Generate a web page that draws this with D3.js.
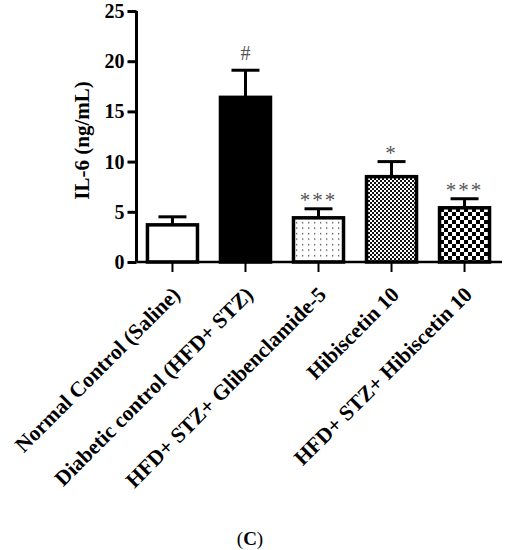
<!DOCTYPE html>
<html>
<head>
<meta charset="utf-8">
<script src="https://cdn.jsdelivr.net/npm/d3@7"></script>
<style>
  html, body { margin: 0; padding: 0; background: #fff; }
  svg { display: block; }
</style>
</head>
<body>
<div id="chart"></div>
<script>
// values (mean and SEM, ng/mL)
const categories = [
    "Normal Control (Saline)",
    "Diabetic control (HFD+ STZ)",
    "HFD+ STZ+ Glibenclamide-5",
    "Hibiscetin 10",
    "HFD+ STZ+ Hibiscetin 10"
];
const means = [3.7, 16.4, 4.4, 8.5, 5.4];
const errors = [0.8, 2.7, 0.9, 1.5, 0.9];
const marks = ["", "#", "***", "*", "***"];
const fills = ["white", "black", "url(#dots)", "url(#fineCheck)", "url(#coarseCheck)"];
const yTicks = [0, 5, 10, 15, 20, 25];

const W = 506, H = 550;
const serif = "'Liberation Serif', 'Times New Roman', serif";

const svg = d3.select("#chart")
    .append("svg")
    .attr("width", W)
    .attr("height", H);

// fill patterns for the treated groups
const defs = svg.append("defs");

const dots = defs.append("pattern")
    .attr("id", "dots")
    .attr("patternUnits", "userSpaceOnUse")
    .attr("width", 6).attr("height", 5.5);
dots.append("rect").attr("width", 6).attr("height", 5.5).attr("fill", "white");
dots.append("rect").attr("x", 2).attr("y", 2).attr("width", 1.3).attr("height", 1.3).attr("fill", "#444");

const fine = defs.append("pattern")
    .attr("id", "fineCheck")
    .attr("patternUnits", "userSpaceOnUse")
    .attr("width", 4).attr("height", 4);
fine.append("rect").attr("width", 4).attr("height", 4).attr("fill", "white");
fine.append("rect").attr("width", 2).attr("height", 2).attr("fill", "#111");
fine.append("rect").attr("x", 2).attr("y", 2).attr("width", 2).attr("height", 2).attr("fill", "#111");

const coarse = defs.append("pattern")
    .attr("id", "coarseCheck")
    .attr("patternUnits", "userSpaceOnUse")
    .attr("width", 8).attr("height", 8);
coarse.append("rect").attr("width", 8).attr("height", 8).attr("fill", "white");
coarse.append("rect").attr("width", 4).attr("height", 4).attr("fill", "#000");
coarse.append("rect").attr("x", 4).attr("y", 4).attr("width", 4).attr("height", 4).attr("fill", "#000");

// scales
const x = d3.scaleBand()
    .domain(categories)
    .range([136.5, 500.5])
    .paddingInner(0.315)
    .paddingOuter(0.15);

const y = d3.scaleLinear()
    .domain([0, 25])
    .range([262, 11]);

const data = categories.map((c, i) => ({
    name: c, mean: means[i], err: errors[i], mark: marks[i], fill: fills[i]
}));

// bars
svg.selectAll(".bar")
    .data(data)
    .enter().append("rect")
    .attr("class", "bar")
    .attr("x", d => x(d.name))
    .attr("y", d => y(d.mean))
    .attr("width", x.bandwidth())
    .attr("height", d => y(0) - y(d.mean))
    .attr("fill", d => d.fill)
    .attr("stroke", "black")
    .attr("stroke-width", 3.5);

// error bars (upper half only)
const eb = svg.selectAll(".err")
    .data(data)
    .enter().append("g")
    .attr("class", "err")
    .attr("stroke", "black")
    .attr("stroke-width", 3);

eb.append("line")
    .attr("x1", d => x(d.name) + x.bandwidth() / 2)
    .attr("x2", d => x(d.name) + x.bandwidth() / 2)
    .attr("y1", d => y(d.mean))
    .attr("y2", d => y(d.mean + d.err));

eb.append("line")
    .attr("x1", d => x(d.name) + x.bandwidth() / 2 - 14)
    .attr("x2", d => x(d.name) + x.bandwidth() / 2 + 14)
    .attr("y1", d => y(d.mean + d.err))
    .attr("y2", d => y(d.mean + d.err));

// significance marks
svg.selectAll(".sig")
    .data(data.filter(d => d.mark))
    .enter().append("text")
    .attr("class", "sig")
    .attr("x", d => x(d.name) + x.bandwidth() / 2)
    .attr("y", d => y(d.mean + d.err) - (d.mark === "#" ? 10 : 2))
    .attr("text-anchor", "middle")
    .attr("font-family", serif)
    .attr("font-size", d => d.mark === "#" ? 20 : 21)
    .attr("letter-spacing", d => d.mark === "#" ? 0 : 2)
    .attr("fill", "#555")
    .text(d => d.mark);

// y axis
const yAxis = svg.append("g")
    .attr("transform", "translate(136.5,0)")
    .call(d3.axisLeft(y).tickValues(yTicks).tickSize(9).tickPadding(3));
yAxis.select(".domain").attr("stroke-width", 3).attr("d", `M0,${y(25)}V${y(0)}`);
yAxis.selectAll(".tick line").attr("stroke-width", 3);
yAxis.selectAll(".tick text")
    .attr("font-family", serif)
    .attr("font-weight", "bold")
    .attr("font-size", 20)
    .attr("fill", "#000");

// x axis
const xAxis = svg.append("g")
    .attr("transform", `translate(0,${y(0)})`)
    .call(d3.axisBottom(x).tickSize(10).tickPadding(4));
xAxis.select(".domain").attr("stroke-width", 2.5).attr("d", "M136.5,0H502");
xAxis.selectAll(".tick line").attr("stroke-width", 2);
xAxis.selectAll(".tick text")
    .attr("font-family", serif)
    .attr("font-weight", "bold")
    .attr("font-size", 21.5)
    .attr("fill", "#000")
    .attr("text-anchor", "end")
    .attr("dy", 0)
    .attr("transform", "translate(-1,24) rotate(-45)");

// y axis title
svg.append("text")
    .attr("transform", `translate(89,${(y(0) + y(25)) / 2 + 4}) rotate(-90)`)
    .attr("text-anchor", "middle")
    .attr("font-family", serif)
    .attr("font-weight", "bold")
    .attr("font-size", 21)
    .text("IL-6 (ng/mL)");

// panel letter
const panel = svg.append("text")
    .attr("x", 250)
    .attr("y", 545)
    .attr("text-anchor", "middle")
    .attr("font-family", serif)
    .attr("font-size", 19);
panel.append("tspan").text("(");
panel.append("tspan").attr("font-weight", "bold").text("C");
panel.append("tspan").text(")");
</script>
</body>
</html>
